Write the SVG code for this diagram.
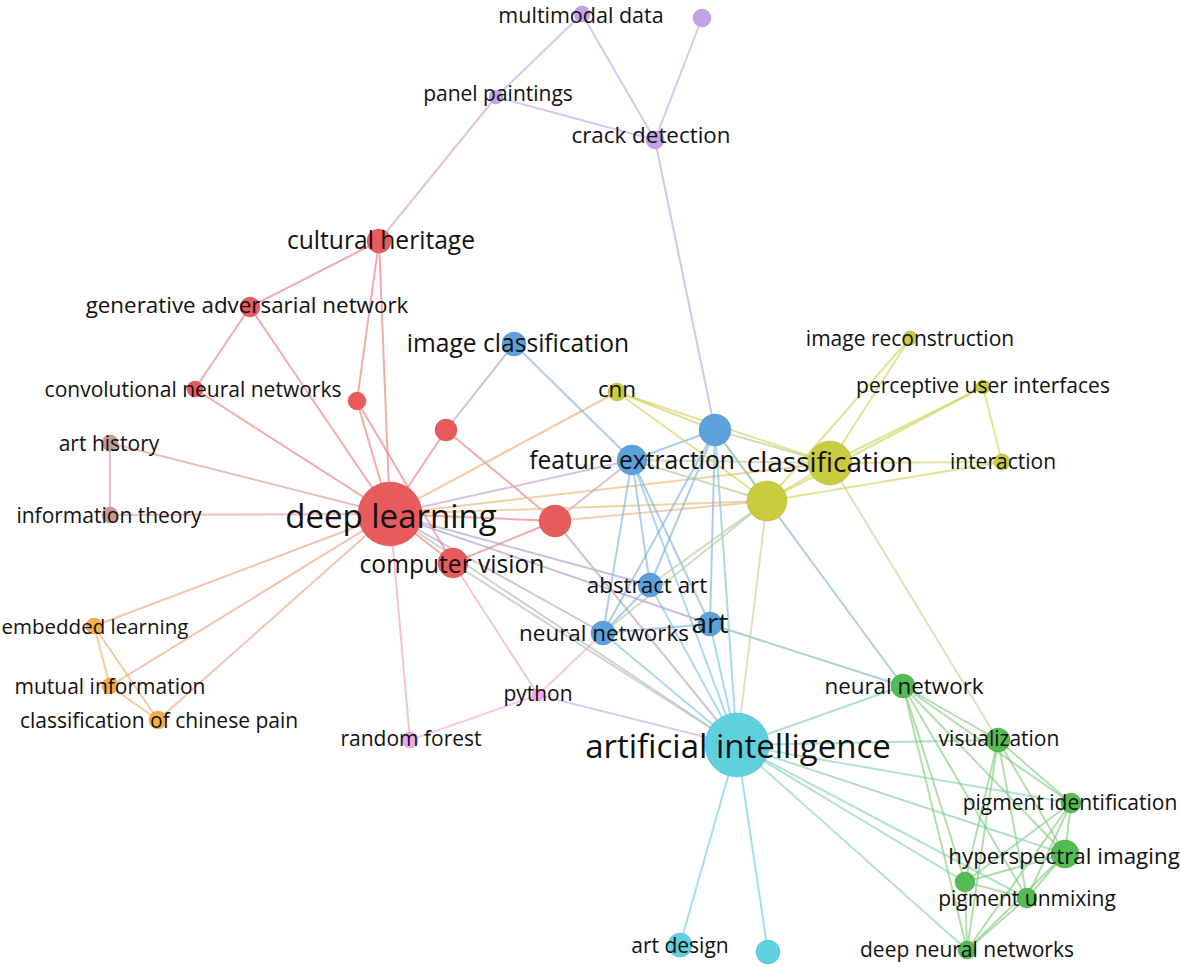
<svg xmlns="http://www.w3.org/2000/svg" width="1180" height="967" viewBox="0 0 1180 967">
<style>
.bg{fill:#ffffff}
.e{fill:none;stroke-width:2;stroke-opacity:0.65;stroke-linecap:round}
.er{stroke:#ec7c7c}.ep{stroke:#c4a6ea}.eb{stroke:#7fb2e2}.ey{stroke:#d2d45a}.eg{stroke:#86cc82}.ec{stroke:#6fd0dc}.eo{stroke:#f2ad66}.eag{stroke:#86d2b4}
.n{stroke-width:1;stroke-opacity:0.35}
.red{fill:#e85a5c;stroke:#b83c3e}.blue{fill:#5ba2dd;stroke:#3a78b0}.yel{fill:#cacb3e;stroke:#9c9d20}.pur{fill:#c2a4e6;stroke:#9a7cc4}
.cya{fill:#5fd0dd;stroke:#38a8b6}.grn{fill:#54ba52;stroke:#338a32}.ora{fill:#f7ae48;stroke:#cc8420}.bro{fill:#c69c94;stroke:#9a706a}.pin{fill:#f2a8ea;stroke:#c880c0}
.l{font-family:"Open Sans","DejaVu Sans",sans-serif;fill:#111111;text-anchor:middle;dominant-baseline:central}
.s17{font-size:21px}.s18{font-size:22.4px}.s20{font-size:24.6px}.s24{font-size:28px}.s30{font-size:33px}
</style>
<rect class="bg" x="0" y="0" width="1180" height="967"/>
<g id="connectors">
<!-- purple -->
<line class="e ep" x1="582" y1="14" x2="496" y2="97"/>
<line class="e ep" x1="582" y1="14" x2="655" y2="140"/>
<line class="e ep" x1="702" y1="18" x2="655" y2="140"/>
<line class="e ep" x1="496" y1="97" x2="655" y2="140"/>
<line class="e" stroke="#dca0bc" x1="496" y1="97" x2="379" y2="241"/>
<line class="e" stroke="#a8b0ea" x1="655" y1="140" x2="715" y2="430"/>
<!-- red -->
<line class="e er" x1="379" y1="241" x2="250" y2="307"/>
<line class="e er" x1="379" y1="241" x2="357" y2="401"/>
<line class="e er" x1="379" y1="241" x2="390" y2="514"/>
<line class="e er" x1="250" y1="307" x2="195" y2="389"/>
<line class="e er" x1="250" y1="307" x2="390" y2="514"/>
<line class="e er" x1="195" y1="389" x2="390" y2="514"/>
<line class="e er" x1="357" y1="401" x2="390" y2="514"/>
<line class="e er" x1="357" y1="401" x2="453" y2="563"/>
<line class="e er" x1="446" y1="430" x2="390" y2="514"/>
<line class="e er" x1="446" y1="430" x2="555" y2="521"/>
<line class="e" stroke="#a4a4cc" x1="446" y1="430" x2="514" y2="344"/>
<line class="e er" x1="390" y1="514" x2="555" y2="521"/>
<line class="e er" x1="390" y1="514" x2="453" y2="563"/>
<line class="e er" x1="453" y1="563" x2="555" y2="521"/>
<line class="e" stroke="#d8a098" x1="110" y1="443" x2="390" y2="514"/>
<line class="e" stroke="#cfa8a2" stroke-width="3" x1="110" y1="443" x2="110" y2="515"/>
<line class="e" stroke="#e4a09c" x1="110" y1="515" x2="390" y2="514"/>
<line class="e" stroke="#f0a080" x1="94" y1="626" x2="390" y2="514"/>
<line class="e" stroke="#f0a080" x1="110" y1="686" x2="390" y2="514"/>
<line class="e" stroke="#f0a080" x1="158" y1="720" x2="390" y2="514"/>
<line class="e eo" stroke-width="2.5" x1="94" y1="626" x2="110" y2="686"/>
<line class="e eo" stroke-width="2.5" x1="94" y1="626" x2="158" y2="720"/>
<line class="e eo" stroke-width="2.5" x1="110" y1="686" x2="158" y2="720"/>
<line class="e" stroke="#f29cc8" x1="390" y1="514" x2="410" y2="740"/>
<line class="e" stroke="#f4a2cc" x1="453" y1="563" x2="538" y2="695"/>
<line class="e" stroke="#f2aee6" x1="410" y1="740" x2="538" y2="695"/>
<line class="e" stroke="#eeacd2" x1="538" y1="695" x2="603" y2="633"/>
<line class="e" stroke="#c4b4ea" x1="538" y1="695" x2="737" y2="745"/>
<line class="e" stroke="#eeae6a" stroke-width="2.5" x1="390" y1="514" x2="617" y2="392"/>
<line class="e" stroke="#ecb878" stroke-width="2.5" x1="390" y1="514" x2="830" y2="463"/>
<line class="e" stroke="#e8bc70" stroke-width="3" x1="390" y1="514" x2="767" y2="501"/>
<line class="e" stroke="#c4a4cc" x1="390" y1="514" x2="632" y2="460"/>
<line class="e" stroke="#ae9ecc" x1="390" y1="514" x2="650" y2="585"/>
<line class="e" stroke="#aa9cc8" x1="390" y1="514" x2="710" y2="624"/>
<line class="e" stroke="#b8a0c8" x1="390" y1="514" x2="603" y2="633"/>
<line class="e" stroke="#aac0b8" stroke-width="4.5" x1="390" y1="514" x2="737" y2="745"/>
<line class="e" stroke="#b8bcbc" stroke-width="2.5" x1="453" y1="563" x2="737" y2="745"/>
<line class="e" stroke="#c0a4ac" x1="555" y1="521" x2="737" y2="745"/>
<line class="e" stroke="#cc9cb8" x1="555" y1="521" x2="632" y2="460"/>
<line class="e" stroke="#e8b884" stroke-width="2.5" x1="555" y1="521" x2="767" y2="501"/>
<!-- blue -->
<line class="e eb" x1="514" y1="344" x2="632" y2="460"/>
<line class="e eb" x1="632" y1="460" x2="715" y2="430"/>
<line class="e eb" x1="632" y1="460" x2="650" y2="585"/>
<line class="e eb" x1="632" y1="460" x2="603" y2="633"/>
<line class="e eb" x1="632" y1="460" x2="710" y2="624"/>
<line class="e" stroke="#7cc4e4" x1="632" y1="460" x2="737" y2="745"/>
<line class="e eb" x1="715" y1="430" x2="650" y2="585"/>
<line class="e eb" x1="715" y1="430" x2="603" y2="633"/>
<line class="e eb" x1="715" y1="430" x2="710" y2="624"/>
<line class="e" stroke="#7cc4e4" stroke-width="2.5" x1="715" y1="430" x2="737" y2="745"/>
<line class="e eb" x1="650" y1="585" x2="603" y2="633"/>
<line class="e" stroke="#7cc6e4" x1="650" y1="585" x2="737" y2="745"/>
<line class="e eb" x1="603" y1="633" x2="710" y2="624"/>
<line class="e" stroke="#78c8e2" stroke-width="2.5" x1="603" y1="633" x2="737" y2="745"/>
<line class="e" stroke="#78c8e2" x1="710" y1="624" x2="737" y2="745"/>
<line class="e" stroke="#7cbcc0" x1="715" y1="430" x2="903" y2="686"/>
<line class="e" stroke="#7cbcc4" x1="710" y1="624" x2="903" y2="686"/>
<line class="e" stroke="#b4cc9a" x1="632" y1="460" x2="830" y2="463"/>
<line class="e" stroke="#b4cc9a" x1="632" y1="460" x2="767" y2="501"/>
<line class="e" stroke="#b4cc9a" x1="715" y1="430" x2="830" y2="463"/>
<line class="e" stroke="#b4cc9a" x1="715" y1="430" x2="767" y2="501"/>
<line class="e" stroke="#b4cc9a" x1="650" y1="585" x2="767" y2="501"/>
<line class="e" stroke="#b4cc9a" x1="603" y1="633" x2="767" y2="501"/>
<!-- yellow -->
<line class="e ey" x1="617" y1="392" x2="715" y2="430"/>
<line class="e ey" x1="617" y1="392" x2="830" y2="463"/>
<line class="e ey" x1="617" y1="392" x2="767" y2="501"/>
<line class="e ey" x1="830" y1="463" x2="910" y2="338"/>
<line class="e ey" x1="830" y1="463" x2="983" y2="387"/>
<line class="e ey" stroke-width="3" x1="830" y1="463" x2="1002" y2="462"/>
<line class="e ey" stroke-width="3" x1="830" y1="463" x2="767" y2="501"/>
<line class="e ey" x1="767" y1="501" x2="910" y2="338"/>
<line class="e ey" stroke-width="4" x1="767" y1="501" x2="983" y2="387"/>
<line class="e ey" stroke-width="2.5" x1="767" y1="501" x2="1002" y2="462"/>
<line class="e ey" stroke-width="3" x1="983" y1="387" x2="1002" y2="462"/>
<line class="e" stroke="#c2dc8a" x1="830" y1="463" x2="998" y2="740"/>
<line class="e" stroke="#bcdc98" stroke-width="2.5" x1="767" y1="501" x2="737" y2="745"/>
<!-- green -->
<line class="e eag" stroke-width="2.5" x1="903" y1="686" x2="737" y2="745"/>
<line class="e eag" x1="998" y1="740" x2="737" y2="745"/>
<line class="e eag" x1="1071" y1="803" x2="737" y2="745"/>
<line class="e eag" x1="1065" y1="854" x2="737" y2="745"/>
<line class="e eag" x1="965" y1="882" x2="737" y2="745"/>
<line class="e eag" x1="1027" y1="898" x2="737" y2="745"/>
<line class="e eag" x1="967" y1="950" x2="737" y2="745"/>
<line class="e eg" x1="903" y1="686" x2="998" y2="740"/>
<line class="e eg" x1="903" y1="686" x2="1071" y2="803"/>
<line class="e eg" x1="903" y1="686" x2="1065" y2="854"/>
<line class="e eg" x1="903" y1="686" x2="965" y2="882"/>
<line class="e eg" x1="903" y1="686" x2="1027" y2="898"/>
<line class="e eg" x1="903" y1="686" x2="967" y2="950"/>
<line class="e eg" x1="998" y1="740" x2="1071" y2="803"/>
<line class="e eg" x1="998" y1="740" x2="1065" y2="854"/>
<line class="e eg" x1="998" y1="740" x2="965" y2="882"/>
<line class="e eg" x1="998" y1="740" x2="1027" y2="898"/>
<line class="e eg" x1="998" y1="740" x2="967" y2="950"/>
<line class="e eg" x1="1071" y1="803" x2="1065" y2="854"/>
<line class="e eg" x1="1071" y1="803" x2="965" y2="882"/>
<line class="e eg" x1="1071" y1="803" x2="1027" y2="898"/>
<line class="e eg" x1="1071" y1="803" x2="967" y2="950"/>
<line class="e eg" x1="1065" y1="854" x2="965" y2="882"/>
<line class="e eg" x1="1065" y1="854" x2="1027" y2="898"/>
<line class="e eg" x1="1065" y1="854" x2="967" y2="950"/>
<line class="e eg" x1="965" y1="882" x2="1027" y2="898"/>
<line class="e eg" x1="965" y1="882" x2="967" y2="950"/>
<line class="e eg" x1="1027" y1="898" x2="967" y2="950"/>
<!-- cyan -->
<line class="e ec" stroke-width="2.5" x1="737" y1="745" x2="680" y2="945"/>
<line class="e ec" stroke-width="2.5" x1="737" y1="745" x2="768" y2="952"/>
</g>
<g id="nodes">
<g id="n-multimodal-data"><circle class="n pur" cx="582" cy="14" r="8"/><text class="l" style="font-size:21.5px" x="581" y="14">multimodal data</text></g>
<g id="n-purple-1"><circle class="n pur" cx="702" cy="18" r="9"/></g>
<g id="n-panel-paintings"><circle class="n pur" cx="496" cy="97" r="7"/><text class="l s17" x="498" y="93">panel paintings</text></g>
<g id="n-crack-detection"><circle class="n pur" cx="655" cy="140" r="9"/><text class="l s18" x="651" y="134">crack detection</text></g>
<g id="n-cultural-heritage"><circle class="n red" cx="379" cy="241" r="12"/><text class="l s20" x="381" y="239">cultural heritage</text></g>
<g id="n-gan"><circle class="n red" cx="250" cy="307" r="10"/><text class="l s18" x="247" y="304">generative adversarial network</text></g>
<g id="n-image-classification"><circle class="n blue" cx="514" cy="344" r="12"/><text class="l s20" x="518" y="342">image classification</text></g>
<g id="n-image-reconstruction"><circle class="n yel" cx="910" cy="338" r="7"/><text class="l s17" x="910" y="338">image reconstruction</text></g>
<g id="n-cnn"><circle class="n yel" cx="617" cy="392" r="9"/><text class="l s18" x="617" y="388">cnn</text></g>
<g id="n-perceptive-user-interfaces"><circle class="n yel" cx="983" cy="387" r="7"/><text class="l s17" x="983" y="385">perceptive user interfaces</text></g>
<g id="n-convolutional-neural-networks"><circle class="n red" cx="195" cy="389" r="8"/><text class="l s17" x="193" y="389">convolutional neural networks</text></g>
<g id="n-red-1"><circle class="n red" cx="357" cy="401" r="9"/></g>
<g id="n-red-2"><circle class="n red" cx="446" cy="430" r="11"/></g>
<g id="n-blue-1"><circle class="n blue" cx="715" cy="430" r="16"/></g>
<g id="n-art-history"><circle class="n bro" cx="110" cy="443" r="8"/><text class="l s17" x="109" y="443">art history</text></g>
<g id="n-feature-extraction"><circle class="n blue" cx="632" cy="460" r="15"/><text class="l s20" x="632" y="459">feature extraction</text></g>
<g id="n-classification"><circle class="n yel" cx="830" cy="463" r="22"/><text class="l s24" x="830" y="461">classification</text></g>
<g id="n-interaction"><circle class="n yel" cx="1002" cy="462" r="8"/><text class="l s17" x="1003" y="461">interaction</text></g>
<g id="n-yellow-1"><circle class="n yel" cx="767" cy="501" r="20"/></g>
<g id="n-deep-learning"><circle class="n red" cx="390" cy="514" r="32"/><text class="l s30" x="391" y="515">deep learning</text></g>
<g id="n-information-theory"><circle class="n bro" cx="110" cy="515" r="8"/><text class="l s17" x="109" y="515">information theory</text></g>
<g id="n-red-3"><circle class="n red" cx="555" cy="521" r="16"/></g>
<g id="n-computer-vision"><circle class="n red" cx="453" cy="563" r="15"/><text class="l s20" x="452" y="563">computer vision</text></g>
<g id="n-abstract-art"><circle class="n blue" cx="650" cy="585" r="12"/><text class="l s18" x="647" y="584">abstract art</text></g>
<g id="n-embedded-learning"><circle class="n ora" cx="94" cy="626" r="8"/><text class="l" style="font-size:20.5px" x="95" y="626">embedded learning</text></g>
<g id="n-art"><circle class="n blue" cx="710" cy="624" r="12"/><text class="l" style="font-size:28px" x="710" y="622">art</text></g>
<g id="n-neural-networks"><circle class="n blue" cx="603" cy="633" r="12"/><text class="l s18" x="604" y="632">neural networks</text></g>
<g id="n-mutual-information"><circle class="n ora" cx="110" cy="686" r="8"/><text class="l s17" x="110" y="686">mutual information</text></g>
<g id="n-neural-network"><circle class="n grn" cx="903" cy="686" r="12"/><text class="l s18" x="904" y="685">neural network</text></g>
<g id="n-python"><circle class="n pin" cx="538" cy="695" r="6"/><text class="l s17" x="538" y="693">python</text></g>
<g id="n-classification-of-chinese-pain"><circle class="n ora" cx="158" cy="720" r="9"/><text class="l s17" x="159" y="720">classification of chinese pain</text></g>
<g id="n-random-forest"><circle class="n pin" cx="410" cy="740" r="8"/><text class="l s17" x="411" y="738">random forest</text></g>
<g id="n-artificial-intelligence"><circle class="n cya" cx="737" cy="745" r="32"/><text class="l s30" x="738" y="745">artificial intelligence</text></g>
<g id="n-visualization"><circle class="n grn" cx="998" cy="740" r="12"/><text class="l s17" x="999" y="738">visualization</text></g>
<g id="n-pigment-identification"><circle class="n grn" cx="1071" cy="803" r="10"/><text class="l s17" x="1070" y="802">pigment identification</text></g>
<g id="n-hyperspectral-imaging"><circle class="n grn" cx="1065" cy="854" r="14"/><text class="l s18" x="1064" y="855">hyperspectral imaging</text></g>
<g id="n-green-1"><circle class="n grn" cx="965" cy="882" r="10"/></g>
<g id="n-pigment-unmixing"><circle class="n grn" cx="1027" cy="898" r="10"/><text class="l s17" x="1027" y="898">pigment unmixing</text></g>
<g id="n-art-design"><circle class="n cya" cx="680" cy="945" r="12"/><text class="l s17" x="680" y="945">art design</text></g>
<g id="n-cyan-1"><circle class="n cya" cx="768" cy="952" r="12"/></g>
<g id="n-deep-neural-networks"><circle class="n grn" cx="967" cy="950" r="9"/><text class="l s17" x="967" y="949">deep neural networks</text></g>
</g>
</svg>
